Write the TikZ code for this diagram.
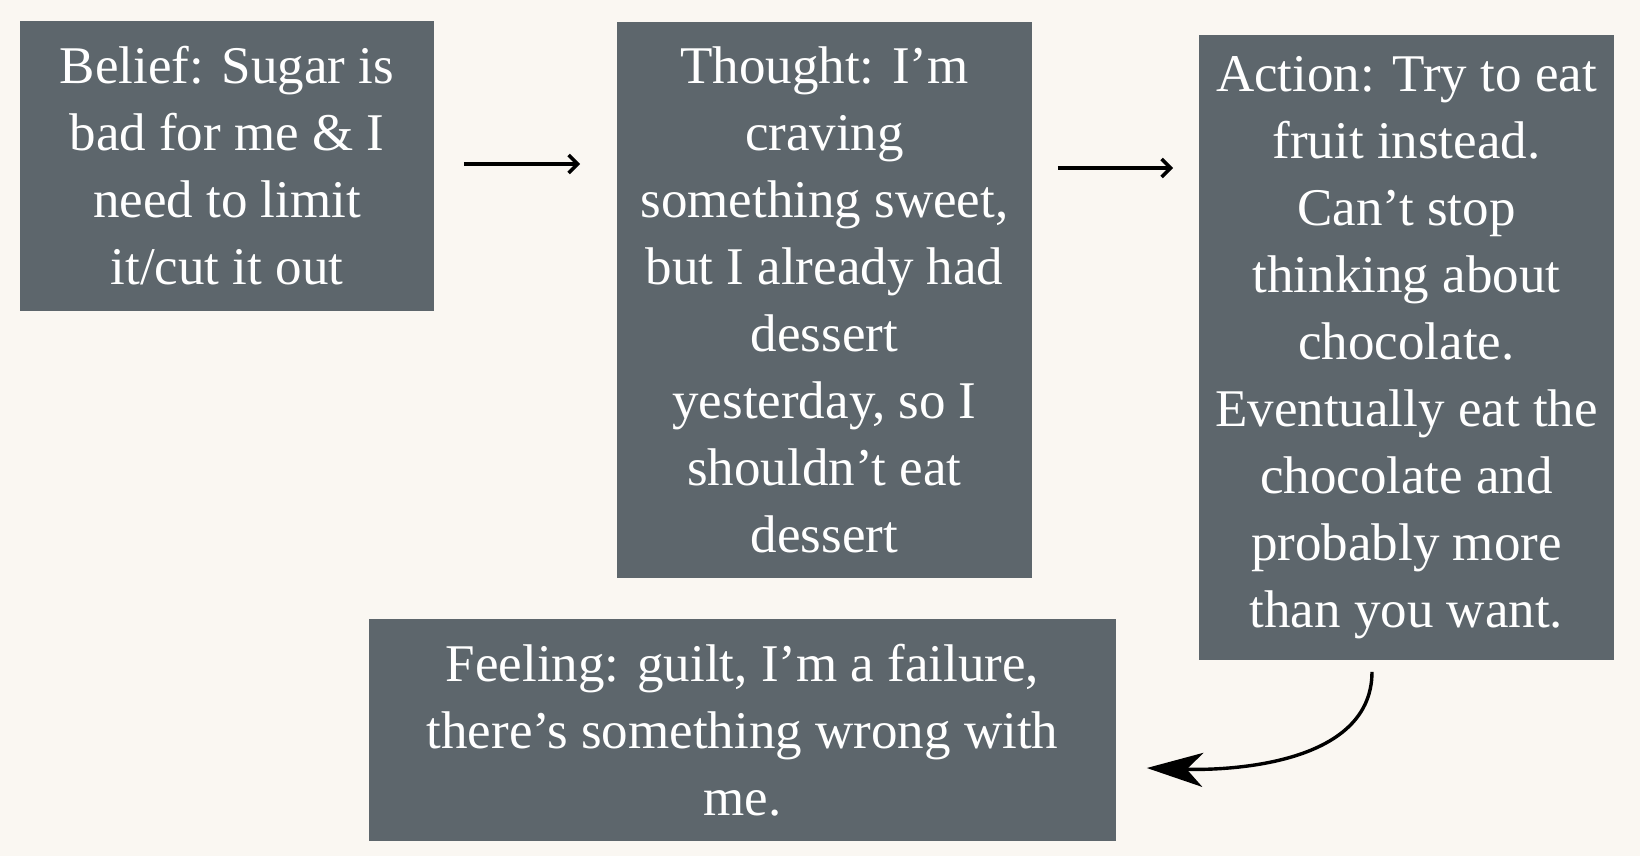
\documentclass[tikz,border=0pt]{standalone}
\usepackage{fontspec}
\setmainfont{Liberation Serif}
\usetikzlibrary{arrows.meta}
\definecolor{slate}{RGB}{93,102,108}
\definecolor{cream}{RGB}{250,247,242}
\tikzset{
every picture/.style={
line width=1.8pt
}}

\begin{document}
\begin{tikzpicture}[x=0.5pt, y=-0.5pt, >={Straight Barb[length=4.5pt,width=9pt]},
block/.style = {rectangle, fill=slate, text=white, inner sep=0pt, align=center,
  font=\fontsize{26.5}{33.5}\selectfont}]
\fill [cream] (0,0) rectangle (1640,856);
\useasboundingbox (0,0) rectangle (1640,856);

\node [block, minimum width=207pt, minimum height=145pt] at (227,166) (b)
  {Belief: Sugar is\\bad for me \& I\\need to limit\\it/cut it out};
\node [block, minimum width=207.5pt, minimum height=278pt] at (824.5,300) (t)
  {Thought: I’m\\craving\\something sweet,\\but I already had\\dessert\\yesterday, so I\\shouldn’t eat\\dessert};
\node [block, minimum width=207.5pt, minimum height=312.5pt] at (1406.5,347.5) (a)
  {Action: Try to eat\\fruit instead.\\Can’t stop\\thinking about\\chocolate.\\Eventually eat the\\chocolate and\\probably more\\than you want.};
\node [block, minimum width=373.5pt, minimum height=111pt] at (742.5,730) (f)
  {Feeling: guilt, I’m a failure,\\there’s something wrong with\\me.};

\draw [->] ([shift={(14pt,1pt)}]b.east) -- ([shift={(-17.5pt,1pt)}]b.east -| t.west);
\draw [->] ([shift={(12pt,66pt)}]t.east) -- ([shift={(-12pt,66pt)}]t.east -| a.west);
\draw [line width=1.7pt, -{Stealth[length=28pt,width=17pt,inset=8pt]}] ([shift={(-17.25pt,-5pt)}]a.south)
  .. controls +(0,-50pt) and +(30pt,-1pt) .. ([shift={(14.5pt,-19pt)}]f.east);

\end{tikzpicture}
\end{document}
